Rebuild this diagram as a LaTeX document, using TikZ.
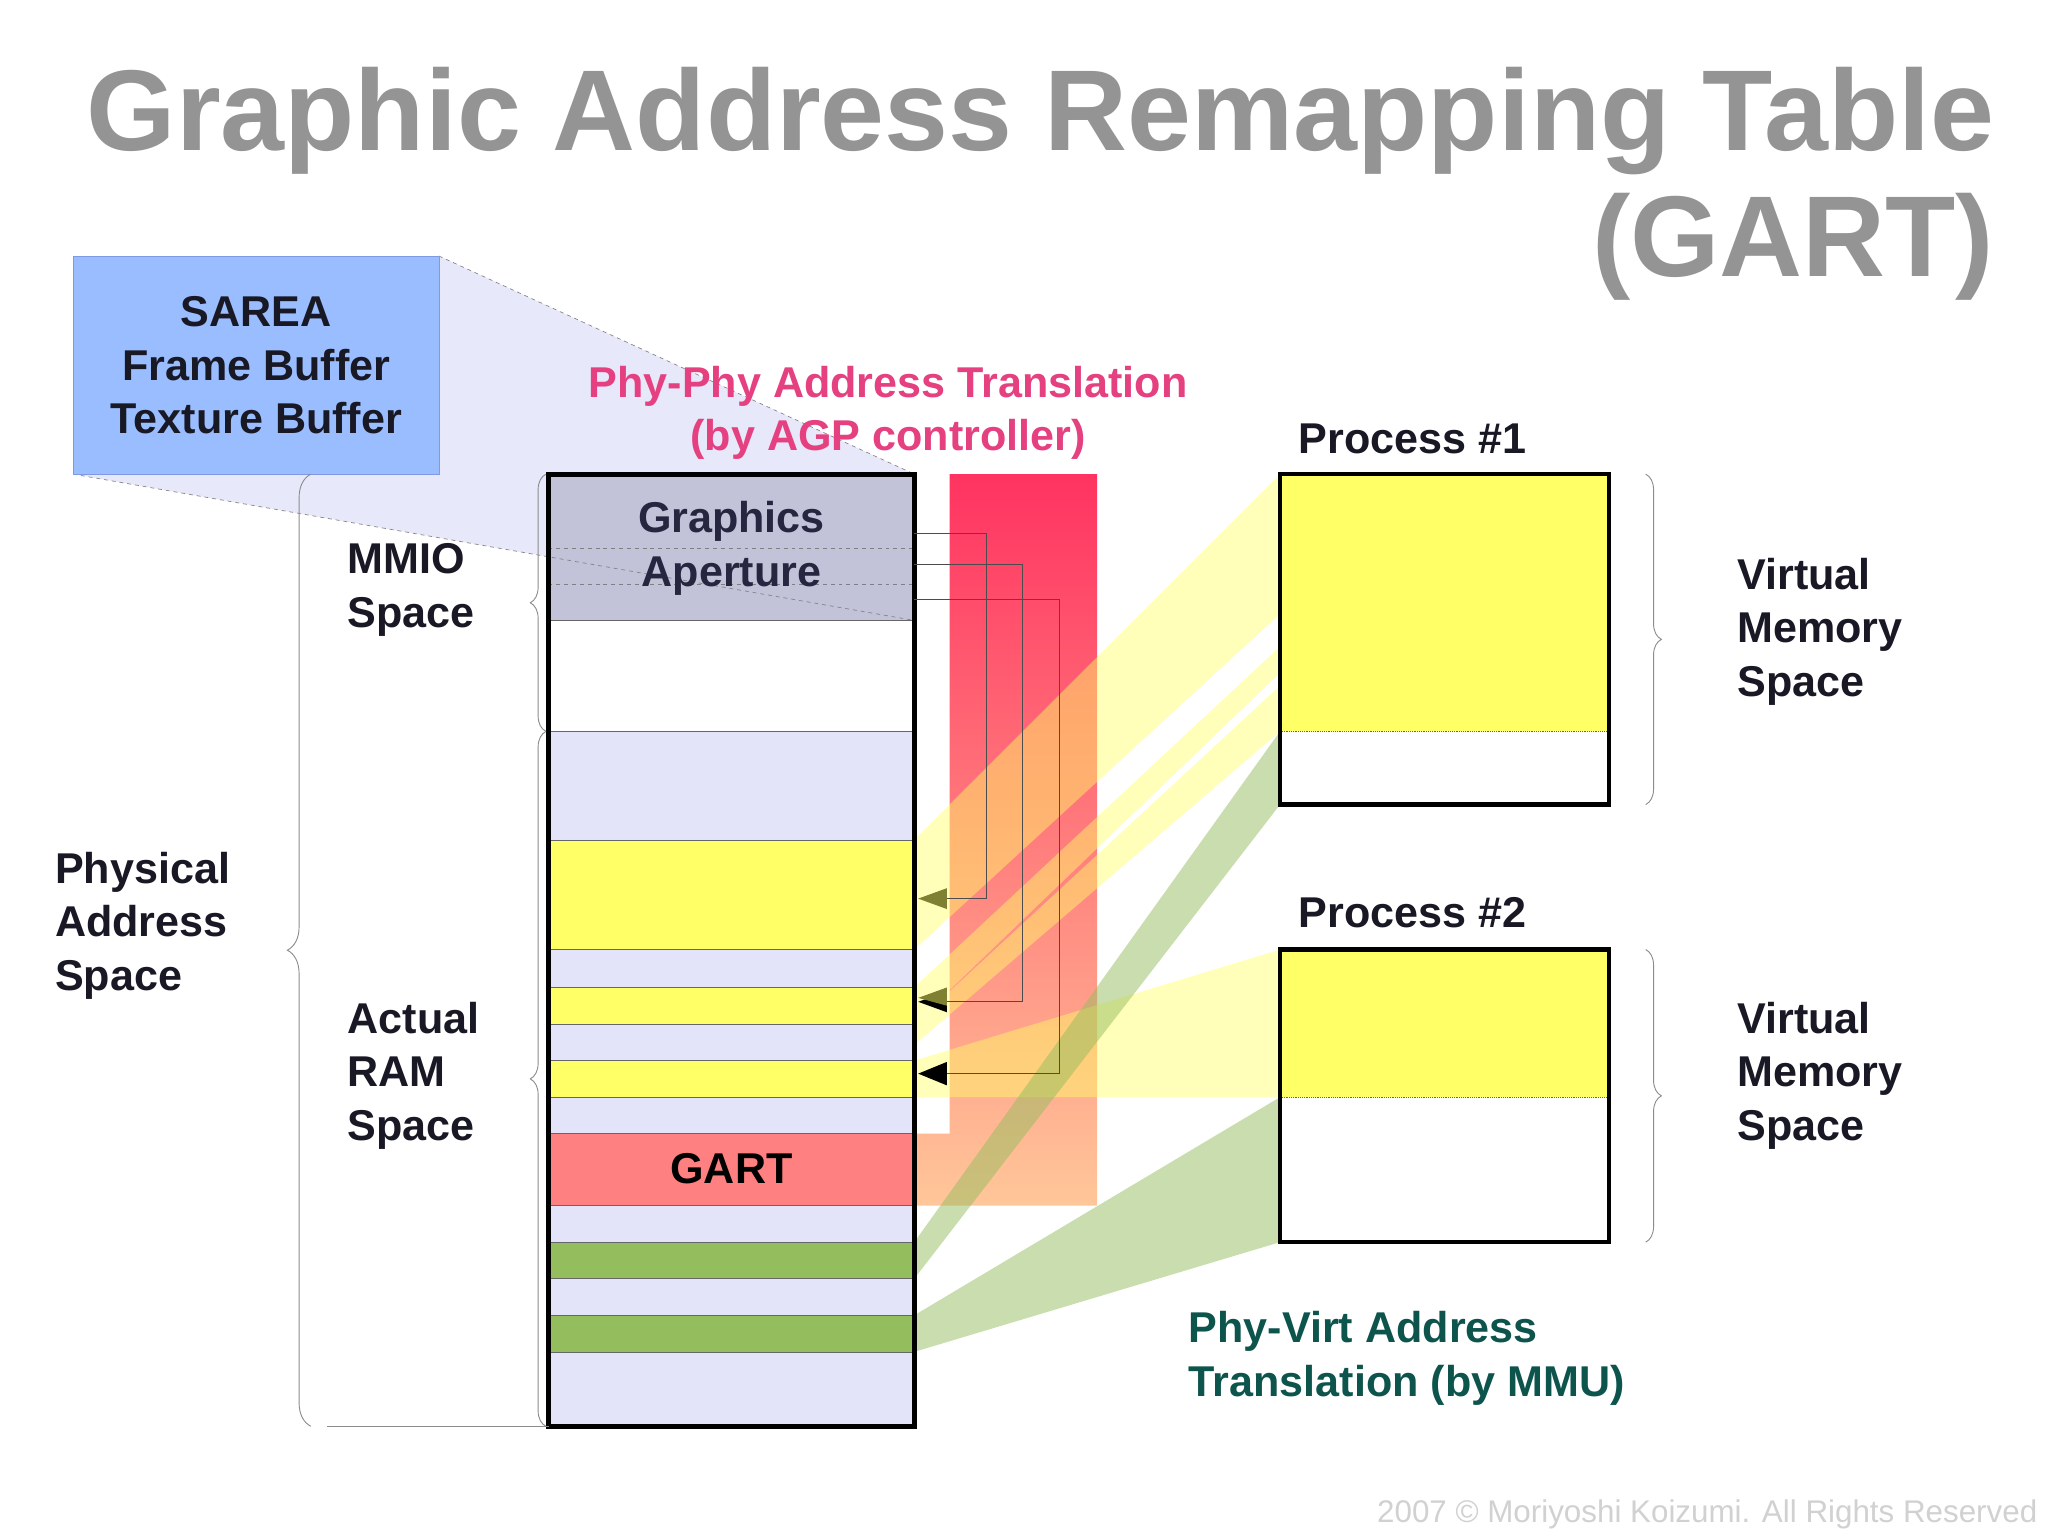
\documentclass[tikz,border=0pt]{standalone}
\usepackage{fontspec}
\setmainfont{Liberation Sans}
\usetikzlibrary{decorations.pathreplacing}
\definecolor{lav}{rgb}{0.89,0.89,0.98}
\definecolor{apt}{rgb}{0.76,0.76,0.85}
\definecolor{yel}{rgb}{1,1,0.4}
\definecolor{grn}{rgb}{0.58,0.74,0.37}
\definecolor{gart}{rgb}{1,0.5,0.5}
\definecolor{txt}{rgb}{0.1,0.1,0.15}
\definecolor{pink}{rgb}{0.9,0.25,0.5}
\definecolor{teal}{rgb}{0.05,0.33,0.3}
\definecolor{olive}{rgb}{0.5,0.5,0.2}
\definecolor{sablue}{rgb}{0.6,0.74,1}
\definecolor{sabord}{rgb}{0.5,0.6,0.9}
\definecolor{aptxt}{rgb}{0.15,0.15,0.25}
\definecolor{redtop}{rgb}{1,0.2,0.38}
\definecolor{redbot}{rgb}{1,0.78,0.6}
\tikzset{
 lbl/.style={font=\fontsize{33}{41}\selectfont\bfseries, text=txt, align=left, anchor=north west, inner sep=0},
 band/.style={draw=black!60, line width=0.5pt},
 ybeam/.style={fill=yel, fill opacity=0.45},
 gbeam/.style={fill=grn, fill opacity=0.5},
 brc/.style={draw=black!45, line width=0.7pt, decorate},
 conn/.style={draw=black!70, line width=0.6pt},
}
\begin{document}
\begin{tikzpicture}[x=1pt,y=-1pt]
\useasboundingbox (0,0) rectangle (1568,1175);
\fill[white] (0,0) rectangle (1568,1175);
\node[anchor=base east, inner sep=0, text=black!42, font=\fontsize{88}{100}\selectfont\bfseries] (t1) at (1527,115) {Graphic Address Remapping Table};
\node[anchor=base east, inner sep=0, text=black!42, font=\fontsize{88}{100}\selectfont\bfseries] (t2) at (1527,212) {(GART)};
\fill[lav, opacity=0.8] (56,363) -- (56,196) -- (336,196) -- (700,363) -- (700,475) -- cycle;
\fill[apt] (420,363) rectangle (700,475);
\fill[white] (420,475) rectangle (700,560);
\fill[lav] (420,560) rectangle (700,643);
\fill[yel] (420,643) rectangle (700,727);
\fill[lav] (420,727) rectangle (700,756);
\fill[yel] (420,756) rectangle (700,784);
\fill[lav] (420,784) rectangle (700,812);
\fill[yel] (420,812) rectangle (700,840);
\fill[lav] (420,840) rectangle (700,868);
\fill[gart] (420,868) rectangle (700,923);
\fill[lav] (420,923) rectangle (700,951);
\fill[grn] (420,951) rectangle (700,979);
\fill[lav] (420,979) rectangle (700,1007);
\fill[grn] (420,1007) rectangle (700,1035);
\fill[lav] (420,1035) rectangle (700,1092);
\foreach \y in {475,560,643,727,756,784,812,840,868,923,951,979,1007,1035}
  \draw[band] (420,\y) -- (700,\y);
\draw[dashed, black!50, line width=0.5pt] (420,420) -- (700,420) (420,447) -- (700,447);
\draw[dashed, black!50, line width=0.5pt] (56,363) -- (700,475) (336,196) -- (700,363);
\node[fill=sablue, draw=sabord, minimum width=280, minimum height=167, anchor=north west, align=center, font=\fontsize{33}{41}\selectfont\bfseries, text=txt] (sarea) at (56,196) {SAREA\\Frame Buffer\\Texture Buffer};
\node[inner sep=0, font=\fontsize{33}{41}\selectfont\bfseries, text=aptxt, align=center] (ga) at (560,420) {Graphics\\Aperture};
\node[inner sep=0, font=\fontsize{33}{41}\selectfont\bfseries, text=black] (gt) at (560,895) {GART};
\shade[top color=redtop, bottom color=redbot] (727,363) -- (840,363) -- (840,923) -- (700,923) -- (700,868) -- (727,868) -- cycle;
\fill[ybeam] (700,643) -- (980,363) -- (980,470) -- (700,727) -- cycle;
\fill[ybeam] (700,756) -- (980,495) -- (980,515) -- (700,784) -- cycle;
\fill[ybeam] (700,784) -- (980,525) -- (980,560) -- (700,800) -- cycle;
\fill[ybeam] (700,812) -- (980,727) -- (980,840) -- (700,840) -- cycle;
\fill[gbeam] (700,951) -- (980,560) -- (980,616) -- (700,979) -- cycle;
\fill[gbeam] (700,1007) -- (980,840) -- (980,951) -- (700,1035) -- cycle;
\draw[line width=4pt] (420,363) rectangle (700,1092);
\coordinate (a1) at (700,408);
\coordinate (a2) at (700,432);
\coordinate (a3) at (700,459);
\draw[conn] (a1) -| (755,688) -- (725,688);
\draw[conn] (a2) -| (783,767) -- (725,767);
\draw[conn] (a3) -| (811,822) -- (725,822);
\fill[black] (703,822) -- (725,813) -- (725,831) -- cycle;
\fill[black] (703,767) -- (725,759) -- (725,775) -- cycle;
\fill[olive] (703,764) -- (725,756) -- (725,770) -- cycle;
\fill[olive] (703,688) -- (725,680) -- (725,696) -- cycle;
\fill[yel] (980,363) rectangle (1232,560);
\fill[yel] (980,727) rectangle (1232,840);
\draw[densely dotted, black!60] (980,560) -- (1232,560) (980,840) -- (1232,840);
\draw[line width=3.5pt] (980,363) rectangle (1232,616);
\draw[line width=3.5pt] (980,727) rectangle (1232,951);
\node[lbl, anchor=base west] (p1) at (994,347) {Process \#1};
\node[lbl, anchor=base west] (p2) at (994,710) {Process \#2};
\draw[brc, decoration={brace, amplitude=12pt}] (1260,363) -- (1260,616);
\draw[brc, decoration={brace, amplitude=12pt}] (1260,727) -- (1260,951);
\draw[brc, decoration={brace, amplitude=12pt}] (418,560) -- (418,363);
\draw[brc, decoration={brace, amplitude=12pt}] (418,1092) -- (418,560);
\draw[brc, decoration={brace, amplitude=18pt}] (238,1092) -- (238,363);
\draw[black!45, line width=0.7pt] (250,1092) -- (420,1092);
\node[lbl] (vm1) at (1330,427) {Virtual\\Memory\\Space};
\node[lbl] (vm2) at (1330,767) {Virtual\\Memory\\Space};
\node[lbl] (mmio) at (266,416) {MMIO\\Space};
\node[lbl] (ram) at (266,767) {Actual\\RAM\\Space};
\node[lbl] (phys) at (42,652) {Physical\\Address\\Space};
\node[inner sep=0, align=center, font=\fontsize{33}{41}\selectfont\bfseries, text=pink] (pp) at (680,316) {Phy-Phy Address Translation\\(by AGP controller)};
\node[lbl, text=teal] (pv) at (910,1004) {Phy-Virt Address\\Translation (by MMU)};
\node[anchor=base east, inner sep=0, text=black!18, font=\fontsize{24}{28}\selectfont] (cp) at (1560,1166) {2007 © Moriyoshi Koizumi. All Rights Reserved};
\end{tikzpicture}
\end{document}
